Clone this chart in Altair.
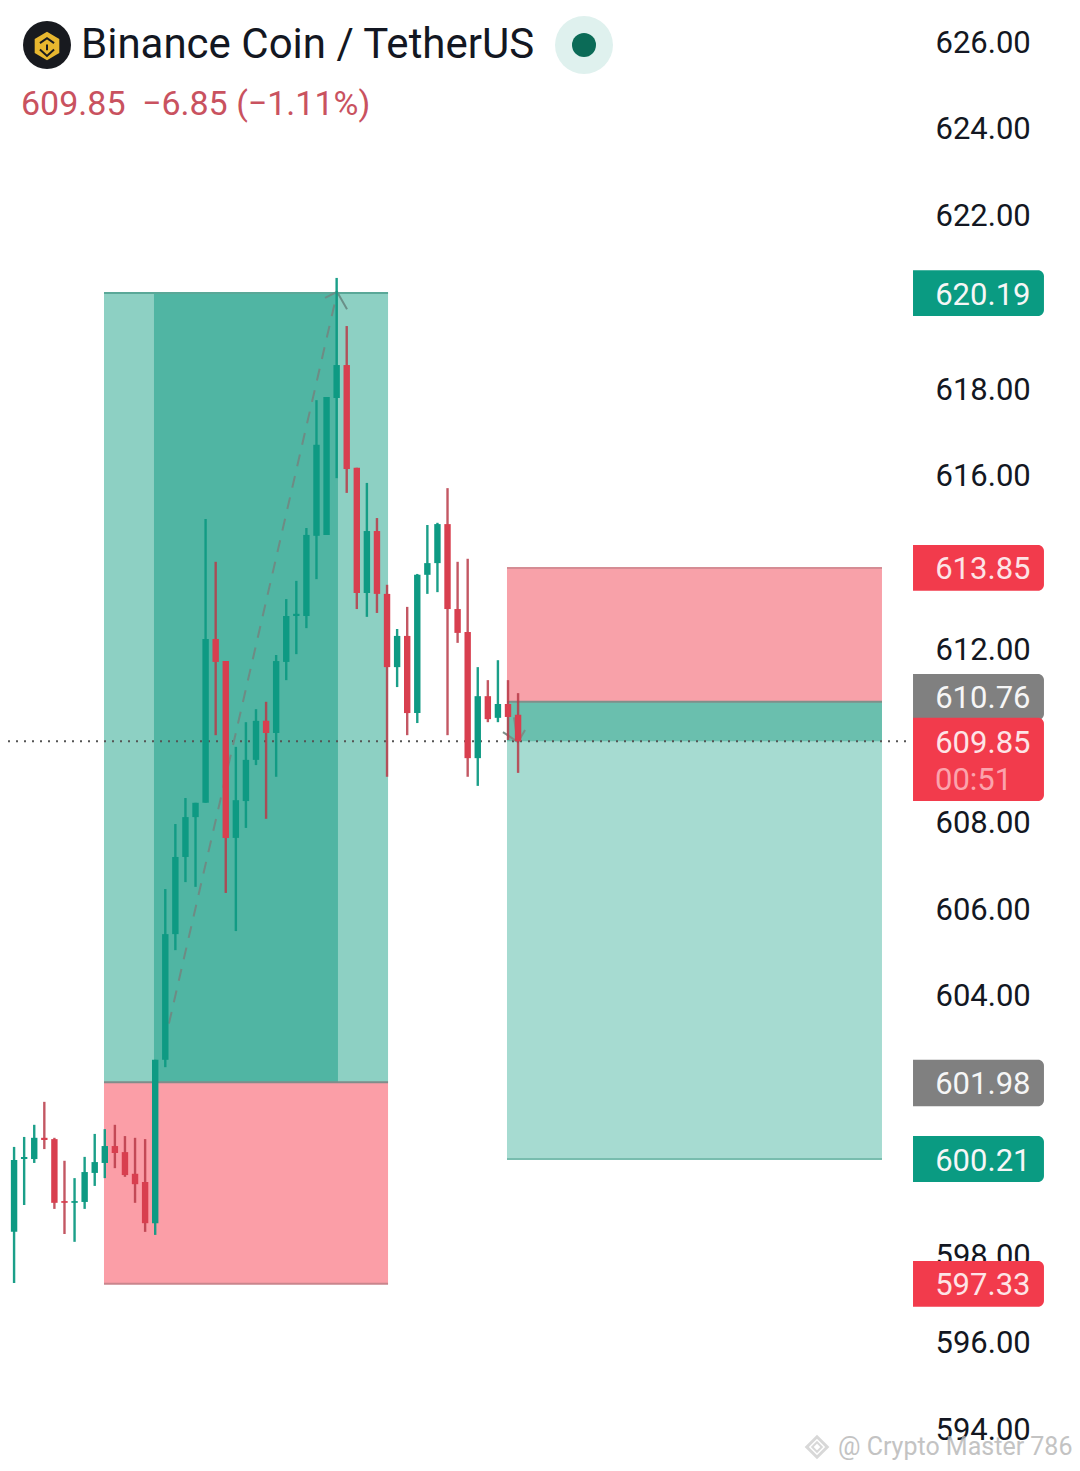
import altair as alt
import pandas as pd

opens = [601.11,598.53,600.21,600.21,600.70,600.67,599.24,599.20,599.22,599.89,600.12,600.51,600.37,599.87,599.68,598.73,602.50,605.40,607.18,608.10,608.43,612.21,611.70,607.62,608.47,609.42,610.32,610.04,611.68,612.74,612.74,614.59,614.61,617.77,618.53,616.16,613.27,614.70,613.25,611.56,612.28,610.50,613.69,613.96,614.86,612.90,612.37,609.46,610.89,610.39,610.71,610.46]
closes = [598.50,600.19,600.26,600.70,600.65,599.20,599.20,599.24,599.91,600.14,600.51,600.35,599.84,599.63,598.73,602.50,605.40,607.18,608.10,608.43,612.21,611.68,607.62,608.49,609.42,610.32,610.04,611.70,612.74,612.79,614.61,616.69,617.79,618.53,616.13,613.27,614.70,613.25,611.56,612.28,610.50,613.69,613.96,614.86,612.90,612.35,609.46,610.89,610.36,610.71,610.41,609.85]
highs = [602.50,600.49,600.72,601.00,601.53,600.70,600.17,599.77,600.26,600.79,600.90,601.00,600.74,600.70,600.67,602.50,606.44,607.94,608.54,608.43,614.98,613.99,611.70,609.72,610.29,610.59,610.76,611.84,613.13,613.55,614.77,617.72,617.79,620.54,619.43,616.16,615.81,615.00,613.46,612.44,612.95,613.71,614.84,614.89,615.69,613.99,614.06,611.56,611.26,611.72,611.26,610.96]
lows = [597.63,597.35,599.15,600.12,600.44,599.06,598.48,598.30,599.06,599.59,599.77,600.00,599.80,599.20,598.53,598.46,602.33,605.03,606.60,606.49,608.43,609.99,606.35,605.47,607.85,609.30,608.06,609.03,611.26,611.86,612.46,613.59,614.61,615.92,615.58,612.90,612.72,612.81,609.03,611.10,609.99,610.27,613.25,613.29,609.99,612.12,609.03,608.82,610.29,610.29,609.88,609.12]

tick_labels = [626, 624, 622, 618, 616, 612, 608, 606, 604, 598, 596, 594]
left_band = [9.92, 38.1]
inner_band = [14.88, 33.13]
right_band = [49.9, 87.1]
pill_band = [90.18, 103.17]
label_x = 92.38

entry_long, stop_long, target_long = 601.98, 597.33, 620.19
entry_short, stop_short, target_short = 610.76, 613.85, 600.21
last_price = 609.85

trend_i = [15.87, 33.04]
trend_p = [602.84, 620.19]
head1_i = [31.85, 33.04, 34.03]
head1_p = [620.08, 620.22, 619.82]
head2_i = [49.5, 50.99, 51.69]
head2_p = [610.06, 609.83, 610.11]
head2b_i = [50.6, 50.9]
head2b_p = [610.4, 609.9]

pill_text = ["620.19", "613.85", "610.76", "609.85", "601.98", "600.21", "597.33"]
pill_price = [620.19, 613.85, 610.875, 609.85, 601.98, 600.21, 597.33]
pill_top = [620.72, 614.38, 611.40, 610.39, 602.50, 600.74, 597.86]
pill_bottom = [619.66, 613.32, 610.34, 608.47, 601.43, 599.68, 596.80]
pill_colors = ["#0a9b82", "#f23b4c", "#808080", "#f23b4c", "#808080", "#0a9b82", "#f23b4c"]

X = alt.Scale(domain=[0.397, 105.952], nice=False, zero=False, padding=0)
Y = alt.Scale(domain=[593.197, 626.768], nice=False, zero=False, padding=0)
AX = alt.Axis(orient="right", values=tick_labels, format=".2f", title=None, domain=False, ticks=False, grid=False,
              labelFont="Roboto", labelFontSize=31, labelColor="#131722", offset=-137, labelPadding=0, labelOffset=2)
xe = lambda f="x": alt.X(f"{f}:Q", scale=X, axis=None)
ye = lambda f="y": alt.Y(f"{f}:Q", scale=Y, axis=AX)


def zone(x0, x1, p0, p1, color):
    df = pd.DataFrame({"x": [x0], "x2": [x1], "y": [p0], "y2": [p1]})
    return alt.Chart(df).mark_rect(color=color).encode(x=xe(), x2="x2:Q", y=ye(), y2="y2:Q")


def hline(x0, x1, p, color, width=2, dash=None):
    df = pd.DataFrame({"x": [x0], "x2": [x1], "y": [p]})
    kw = {"strokeDash": dash} if dash else {}
    return alt.Chart(df).mark_rule(color=color, strokeWidth=width, **kw).encode(x=xe(), x2="x2:Q", y=ye())


def path(xs, ys, color, width=2, dash=None):
    df = pd.DataFrame({"x": xs, "y": ys, "o": range(len(xs))})
    kw = {"strokeDash": dash} if dash else {}
    return alt.Chart(df).mark_line(color=color, strokeWidth=width, **kw).encode(x=xe(), y=ye(), order="o:Q")


def label(text, px, py, size, color, font="Roboto", align="left", opacity=1, weight=400):
    return alt.Chart(pd.DataFrame({"t": [text]})).mark_text(
        font=font, fontSize=size, color=color, align=align, baseline="middle", opacity=opacity, fontWeight=weight
    ).encode(text="t:N", x=alt.value(px - 8), y=alt.value(py - 6))


def dot(px, py, size, color, shape="circle", stroke=None, sw=0, fill=True):
    kw = {"stroke": stroke, "strokeWidth": sw} if stroke else {}
    return alt.Chart(pd.DataFrame({"a": [0]})).mark_point(
        shape=shape, size=size, filled=fill, color=color, opacity=1, **kw
    ).encode(x=alt.value(px - 8), y=alt.value(py - 8))


layers = [
    zone(left_band[0], left_band[1], entry_long, target_long, "#8dd0c3"),
    zone(left_band[0], left_band[1], stop_long, entry_long, "#fb9ea7"),
    zone(inner_band[0], inner_band[1], entry_long, target_long, "#50b5a3"),
    zone(right_band[0], right_band[1], entry_short, stop_short, "#f8a1a9"),
    zone(right_band[0], right_band[1], target_short, entry_short, "#a6dbd1"),
    zone(right_band[0], right_band[1], last_price, entry_short, "#6abfae"),
    hline(left_band[0], left_band[1], target_long, "#5aa898"),
    hline(left_band[0], left_band[1], entry_long, "#808c8a"),
    hline(left_band[0], left_band[1], stop_long, "#c9858c"),
    hline(right_band[0], right_band[1], stop_short, "#d58c94"),
    hline(right_band[0], right_band[1], entry_short, "#7f8f8a"),
    hline(right_band[0], right_band[1], target_short, "#78bdae"),
]

# last price line and trend
layers.append(hline(0.397, 89.8, last_price, "#555555", 2, [2, 6]))
layers.append(path(trend_i, trend_p, "#6e8b84", 2, [12, 10]))
layers.append(path(head1_i, head1_p, "#6a8f88", 2))
layers.append(path(head2_i, head2_p, "#7b8f88", 2))
layers.append(path(head2b_i, head2b_p, "#7b8f88", 2))

# candles
candles = pd.DataFrame({"i": range(len(opens)), "o": opens, "c": closes, "h": highs, "l": lows})
candles["up"] = candles["c"] >= candles["o"]
for is_up, wick, body, op in [(True, "#0f9a83", "#0e9a83", 0.95), (False, "#b93a48", "#d83f4f", 0.85)]:
    part = candles[candles["up"] == is_up]
    layers.append(alt.Chart(part).mark_rule(color=wick, strokeWidth=2.4, opacity=op).encode(
        x=xe("i"), y=ye("h"), y2="l:Q"))
    layers.append(alt.Chart(part).mark_bar(color=body, size=6.4, orient="vertical").encode(
        x=xe("i"), y=ye("o"), y2="c:Q"))

# price pills
for text, price, top, bottom, col in zip(pill_text, pill_price, pill_top, pill_bottom, pill_colors):
    layers.append(alt.Chart(pd.DataFrame({"x": [pill_band[0]], "x2": [pill_band[1]], "y": [top], "y2": [bottom]})).mark_rect(
        color=col, cornerRadiusTopRight=6, cornerRadiusBottomRight=6).encode(x=xe(), x2="x2:Q", y=ye(), y2="y2:Q"))
    txt_col = "#f6f6f6" if col != "#f23b4c" else "#fde4e6"
    layers.append(alt.Chart(pd.DataFrame({"x": [label_x], "y": [price], "t": [text]})).mark_text(
        font="Roboto", fontSize=31, color=txt_col, align="left", baseline="middle", dy=2.5).encode(x=xe(), y=ye(), text="t:N"))
layers.append(label("00:51", 935, 779, 31, "#fba3ac"))

# header
layers += [
    dot(47, 45, 2304, "#181a1f"),
    dot(47, 46, 800, "#e8b72f", shape="M0,-1 L0.87,-0.5 L0.87,0.5 L0,1 L-0.87,0.5 L-0.87,-0.5 Z"),
    dot(47, 46, 800, "#181a1f", shape="M-0.5,-0.2 L0,-0.55 L0.5,-0.2 M-0.5,0.25 L0,0.7 L0.5,0.25 M0,-0.1 L0,0.3",
        fill=False, stroke="#181a1f", sw=2),
    label("Binance Coin / TetherUS", 81, 43, 42, "#131722"),
    dot(584, 45, 3364, "#dff1ee"),
    dot(584, 45, 576, "#0b6b57"),
    label("609.85", 21, 103, 34, "#c9525f"),
    label("\u22126.85 (\u22121.11%)", 142, 103, 34, "#c9525f"),
    # watermark
    dot(817, 1447, 420, "#d8d8d8", shape="diamond", fill=False, stroke="#d8d8d8", sw=3),
    dot(817, 1447, 90, "#d8d8d8", shape="diamond", fill=False, stroke="#d8d8d8", sw=2),
    label("@ Crypto Master 786", 838, 1445, 25, "#b5b5b5", opacity=0.8),
]

chart = alt.layer(*layers).properties(
    width=1064, height=1455, padding=0, autosize=alt.AutoSizeParams(type="none"), background="white"
).configure_view(stroke=None)

chart.save("out.html", embed_options={"renderer": "svg", "actions": False})
